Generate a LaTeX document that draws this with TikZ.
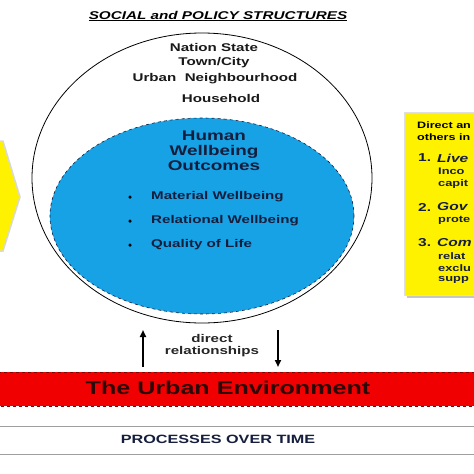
\documentclass[tikz,border=0pt]{standalone}
\usepackage{fontspec}
\setmainfont{Liberation Sans}[FakeStretch=1.35]
\usetikzlibrary{shapes.geometric,arrows.meta}
\definecolor{wellblue}{RGB}{22,162,228}
\definecolor{navytext}{RGB}{22,30,62}
\definecolor{envred}{RGB}{240,0,0}
\definecolor{envtext}{RGB}{45,8,8}

\begin{document}
\begin{tikzpicture}[x=1pt, y=-1pt,
    levellbl/.style={font=\fontsize{11.2}{13}\selectfont\bfseries, text=black!90, inner sep=1pt},
    outcomelbl/.style={font=\fontsize{11.2}{13}\selectfont\bfseries, text=navytext, anchor=west, inner sep=1pt},
    bulletdot/.style={circle, fill=black, inner sep=0pt, minimum size=3.5pt},
    boxlbl/.style={font=\fontsize{9.3}{11}\selectfont\bfseries, anchor=west, inner sep=0pt},
    numlbl/.style={font=\fontsize{11.5}{12}\selectfont\bfseries, text=navytext, anchor=west, inner sep=0pt},
    sublbl/.style={font=\fontsize{9.5}{10}\selectfont\bfseries, text=navytext, anchor=west, inner sep=0pt},
    timeline/.style={draw=gray!75, line width=1.2pt},
    relarrow/.style={-{Triangle[length=7pt,width=6pt]}, line width=1.8pt}
  ]
  \useasboundingbox (0,0) rectangle (474,474);
  \clip (0,0) rectangle (474,474);
  \fill[white] (0,0) rectangle (474,474);

  % structures
  \node[font=\fontsize{11.3}{13}\selectfont\bfseries\itshape, inner sep=1pt] (title) at (218,16)
    {\underline{SOCIAL and POLICY STRUCTURES}};
  \node[draw, line width=0.8pt, ellipse, minimum width=340, minimum height=290, inner sep=0pt]
    (society) at (202,178) {};
  \foreach \x/\y/\lbl [count=\i] in {%
    214/47/Nation State,
    214/63/{Town/City},
    215/79/{Urban\ \ Neighbourhood},
    221/98/Household%
  }{
    \node[levellbl] (level\i) at (\x,\y) {\lbl};
  }

  % outcomes
  \node[ellipse, fill=wellblue, draw=navytext, dashed, line width=0.6pt,
    minimum width=304, minimum height=196, inner sep=0pt] (outcomes) at (202,216) {};
  \node[font=\fontsize{14}{15}\selectfont\bfseries, text=navytext, align=center, inner sep=0pt]
    (outtitle) at (214,151) {Human\\Wellbeing\\Outcomes};
  \foreach \y/\lbl [count=\i] in {197/Material Wellbeing, 221/Relational Wellbeing, 245/Quality of Life}{
    \node[bulletdot] (dot\i) at (130,\y) {};
    \node[outcomelbl] (item\i) at (150,\y) {\lbl};
  }

  % left pointer
  \filldraw[fill=yellow, draw=gray!30, line width=1.5pt]
    (-10,141) -- (3,141) -- (20,197) -- (3,251) -- (-10,251) -- cycle;

  % right box
  \fill[gray!45] (407,115) rectangle (490,298);
  \node[fill=yellow, draw=gray!25, line width=1pt, minimum width=90, minimum height=183,
    anchor=north west, inner sep=0pt] (pathways) at (404,112) {};
  \node[boxlbl] (direct) at (417,125) {Direct an};
  \node[boxlbl] (others) at (417,137) {others in};
  \foreach \num/\head/\y in {1/Live/158, 2/Gov/207, 3/Com/243}{
    \node[numlbl] (num\num) at (418,\y) {\num.};
    \node[numlbl] (head\num) at (437,\y) {\textit{\head}};
  }
  \foreach \lbl/\y [count=\i] in {Inco/171, capit/184, prote/220,
    relat/256, exclu/268, supp/280}{
    \node[sublbl] (sub\i) at (438,\y) {\lbl};
  }

  % environment
  \node[fill=envred, draw=red!55!black, dashed, line width=0.5pt,
    minimum width=484, minimum height=34, inner sep=0pt] (env) at (237,389) {};
  \node[font=\fontsize{18.6}{20}\selectfont\bfseries, text=envtext, inner sep=0pt]
    (envlbl) at (228,388) {The Urban Environment};
  \coordinate (upfoot) at (143,367);
  \coordinate (uphead) at (143,330);
  \coordinate (downtop) at (278,330);
  \coordinate (downfoot) at (278,367);
  \draw[relarrow] (upfoot) -- (uphead);
  \draw[relarrow] (downtop) -- (downfoot);
  \node[font=\fontsize{11.2}{12}\selectfont\bfseries, text=black!85, align=center, inner sep=0pt]
    (rellbl) at (212,346) {direct\\relationships};

  % time
  \node[minimum width=484, minimum height=27, inner sep=0pt] (time) at (237,440.5) {};
  \draw[timeline] (time.north west) -- (time.north east);
  \draw[timeline] (time.south west) -- (time.south east);
  \node[font=\fontsize{12}{13}\selectfont\bfseries, text=navytext, inner sep=0pt]
    (timelbl) at (218,439) {PROCESSES OVER TIME};
\end{tikzpicture}
\end{document}
